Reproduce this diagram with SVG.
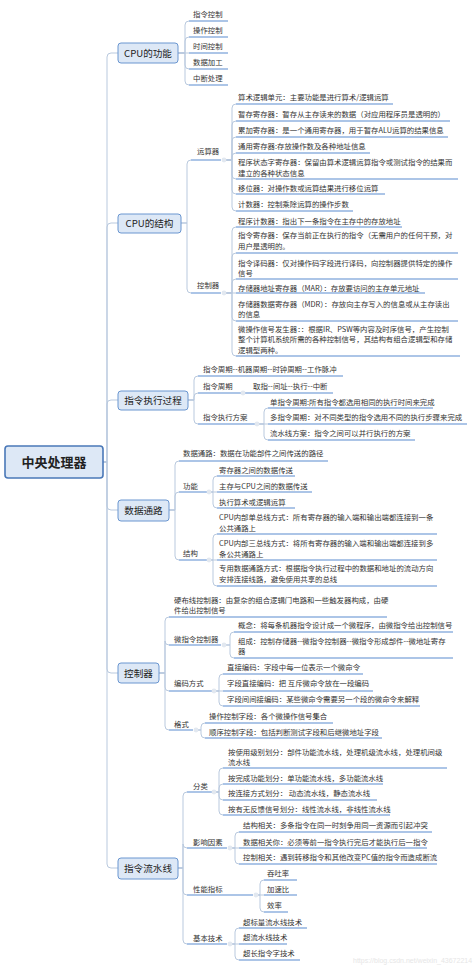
<svg xmlns="http://www.w3.org/2000/svg" width="474" height="968" viewBox="0 0 474 968">
<style>
text{font-family:"Noto Sans CJK SC","Noto Sans",sans-serif;fill:#333}
.t{font-size:7.4px}
.m{font-size:9.6px;fill:#222;text-anchor:middle}
.r{font-size:13px;font-weight:bold;fill:#222;text-anchor:middle}
.sp{fill:none;stroke:#b9c9de;stroke-width:1}
.ul{fill:none;stroke:#5b8bd0;stroke-width:1.2}
.box{fill:#dde8f6;stroke:#6a96d0;stroke-width:1}
.rbox{fill:#dde8f6;stroke:#4a78b8;stroke-width:1.6}
.dot{fill:#e2e8f0}
.wm{font-size:7px;fill:#e6e6e6;font-family:"Liberation Sans",sans-serif}
</style>
<rect width="474" height="968" fill="#fff"/>
<g id="connectors">
<path class="sp" d="M103 462H107V57Q107 53 111 53H118M103 462H107V227Q107 223 111 223H118M103 462H107V404Q107 400 111 400H118M103 462H107V506Q107 510 111 510H118M103 462H107V669Q107 673 111 673H118M103 462H107V864Q107 868 111 868H118"/>
<path class="sp" d="M178 53H185V25Q185 21 189 21M178 53H185V41Q185 37 189 37M178 53H189M178 53H185V65Q185 69 189 69M178 53H185V81Q185 85 189 85"/>
<path class="ul" d="M189 21H228M189 37H228M189 53H228M189 69H228M189 85H228"/>
<path class="sp" d="M181 223H187V164Q187 160 191 160M181 223H187V289Q187 293 191 293"/>
<path class="ul" d="M191 160H221M191 293H221"/>
<path class="sp" d="M226 160H232V108Q232 104 236 104M226 160H232V125Q232 121 236 121M226 160H232V141Q232 137 236 137M226 160H232V157Q232 153 236 153M226 160H232V175Q232 179 236 179M226 160H232V190Q232 194 236 194M226 160H232V207Q232 211 236 211"/>
<path class="ul" d="M236 104H393M236 121H450M236 137H448M236 153H370M236 179H458M236 194H385M236 211H353"/>
<path class="sp" d="M226 293H232V231Q232 227 236 227M226 293H232V257Q232 253 236 253M226 293H232V283Q232 279 236 279M226 293H236M226 293H232V317Q232 321 236 321M226 293H232V352Q232 356 236 356"/>
<path class="ul" d="M236 227H402M236 253H458M236 279H458M236 293H425M236 321H458M236 356H460"/>
<path class="sp" d="M188 400H194V380Q194 376 198 376M188 400H194V397Q194 393 198 393M188 400H194V420Q194 424 198 424"/>
<path class="ul" d="M198 376H343M198 393H333M198 424H255"/>
<path class="sp" d="M258 424H264V412Q264 408 268 408M258 424H268M258 424H264V436Q264 440 268 440"/>
<path class="ul" d="M268 408H433M268 424H467M268 440H415"/>
<path class="sp" d="M169 510H175V465Q175 461 179 461M169 510H175V496Q175 492 179 492M169 510H175V556Q175 560 179 560"/>
<path class="ul" d="M179 461H328M179 492H207M179 560H207"/>
<path class="sp" d="M210 492H213V480Q213 476 217 476M210 492H217M210 492H213V504Q213 508 217 508"/>
<path class="ul" d="M217 476H295M217 492H312M217 508H295"/>
<path class="sp" d="M210 560H213V538Q213 534 217 534M210 560H217M210 560H213V582Q213 586 217 586"/>
<path class="ul" d="M217 534H437M217 560H437M217 586H437"/>
<path class="sp" d="M159 673H165V621Q165 617 169 617M159 673H165V641Q165 645 169 645M159 673H165V687Q165 691 169 691M159 673H165V726Q165 730 169 730"/>
<path class="ul" d="M169 617H387M169 645H221M169 691H212M169 730H193"/>
<path class="sp" d="M226 645H230V636Q230 632 234 632M226 645H230V654Q230 658 234 658"/>
<path class="ul" d="M234 632H453M234 658H453"/>
<path class="sp" d="M215 691H219V678Q219 674 223 674M215 691H223M215 691H219V702Q219 706 223 706"/>
<path class="ul" d="M223 674H363M223 691H373M223 706H420"/>
<path class="sp" d="M197 730H201V727Q201 723 205 723M197 730H201V734Q201 738 205 738"/>
<path class="ul" d="M205 723H333M205 738H382"/>
<path class="sp" d="M178 868H183V796Q183 792 187 792M178 868H183V844Q183 848 187 848M178 868H183V891Q183 895 187 895M178 868H183V940Q183 944 187 944"/>
<path class="ul" d="M187 792H212M187 848H227M187 895H253M187 944H227"/>
<path class="sp" d="M215 792H219V772Q219 768 223 768M215 792H219V788Q219 784 223 784M215 792H219V796Q219 800 223 800M215 792H219V811Q219 815 223 815"/>
<path class="ul" d="M223 768H447M223 784H383M223 800H377M223 815H390"/>
<path class="sp" d="M231 848H235V836Q235 832 239 832M231 848H239M231 848H235V860Q235 864 239 864"/>
<path class="ul" d="M239 832H432M239 848H427M239 864H437"/>
<path class="sp" d="M257 895H260V884Q260 880 264 880M257 895H264M257 895H260V908Q260 912 264 912"/>
<path class="ul" d="M264 880H297M264 895H297M264 912H288"/>
<path class="sp" d="M231 944H235V932Q235 928 239 928M231 944H239M231 944H235V956Q235 960 239 960"/>
<path class="ul" d="M239 928H307M239 944H287M239 960H300"/>
<g class="dot">
<circle cx="224" cy="160" r="2.4"/><circle cx="224" cy="293" r="2.4"/><circle cx="243" cy="393" r="2.4"/><circle cx="257" cy="424" r="2.4"/>
<circle cx="209" cy="492" r="2.4"/><circle cx="209" cy="560" r="2.4"/><circle cx="224" cy="645" r="2.4"/><circle cx="214" cy="691" r="2.4"/>
<circle cx="196" cy="730" r="2.4"/><circle cx="214" cy="792" r="2.4"/><circle cx="230" cy="848" r="2.4"/><circle cx="256" cy="895" r="2.4"/><circle cx="230" cy="944" r="2.4"/>
</g>
</g>
<g id="root"><rect class="rbox" x="5" y="446" width="98" height="32" rx="3"/><text class="r" x="54" y="466.5">中央处理器</text></g>
<g id="cpu-func"><rect class="box" x="118" y="43" width="60" height="20" rx="3"/><text class="m" x="148" y="56.6">CPU的功能</text>
<text class="t" x="193" y="16.7">指令控制</text><text class="t" x="193" y="32.7">操作控制</text><text class="t" x="193" y="48.7">时间控制</text><text class="t" x="193" y="64.7">数据加工</text><text class="t" x="193" y="80.7">中断处理</text></g>
<g id="cpu-struct"><rect class="box" x="118" y="214" width="63" height="19" rx="3"/><text class="m" x="149.5" y="227">CPU的结构</text>
<text class="t" x="197" y="153.7">运算器</text>
<text class="t" x="238" y="99.7">算术逻辑单元：主要功能是进行算术/逻辑运算</text>
<text class="t" x="238" y="116.7">暂存寄存器：暂存从主存读来的数据（对应用程序员是透明的）</text>
<text class="t" x="238" y="132.7">累加寄存器：是一个通用寄存器，用于暂存ALU运算的结果信息</text>
<text class="t" x="238" y="148.7">通用寄存器:存放操作数及各种地址信息</text>
<text class="t" x="238" y="164.7">程序状态字寄存器：保留由算术逻辑运算指令或测试指令的结果而</text>
<text class="t" x="238" y="175.7">建立的各种状态信息</text>
<text class="t" x="238" y="190.7">移位器：对操作数或运算结果进行移位运算</text>
<text class="t" x="238" y="206.7">计数器：控制乘除运算的操作步数</text>
<text class="t" x="197" y="287.7">控制器</text>
<text class="t" x="238" y="223.7">程序计数器：指出下一条指令在主存中的存放地址</text>
<text class="t" x="238" y="237.7">指令寄存器：保存当前正在执行的指令（无需用户的任何干预，对</text>
<text class="t" x="238" y="248.7">用户是透明的。</text>
<text class="t" x="238" y="265.7">指令译码器：仅对操作码字段进行译码，向控制器提供特定的操作</text>
<text class="t" x="238" y="275.7">信号</text>
<text class="t" x="238" y="290.7">存储器地址寄存器（MAR）：存放要访问的主存单元地址</text>
<text class="t" x="238" y="306.7">存储器数据寄存器（MDR）：存放向主存写入的信息或从主存读出</text>
<text class="t" x="238" y="316.7">的信息</text>
<text class="t" x="238" y="331.7">微操作信号发生器：：根据IR、PSW等内容及时序信号，产生控制</text>
<text class="t" x="238" y="341.7">整个计算机系统所需的各种控制信号，其结构有组合逻辑型和存储</text>
<text class="t" x="238" y="352.7">逻辑型两种。</text></g>
<g id="exec"><rect class="box" x="118" y="391" width="70" height="19" rx="3"/><text class="m" x="153" y="404">指令执行过程</text>
<text class="t" x="203" y="371.7">指令周期--机器周期--时钟周期--工作脉冲</text>
<text class="t" x="203" y="388.7">指令周期</text><text class="t" x="253" y="388.7">取指--间址--执行--中断</text>
<text class="t" x="203" y="419.7">指令执行方案</text>
<text class="t" x="270" y="404.7">单指令周期:所有指令都选用相同的执行时间来完成</text>
<text class="t" x="270" y="419.7">多指令周期：对不同类型的指令选用不同的执行步骤来完成</text>
<text class="t" x="270" y="435.7">流水线方案：指令之间可以并行执行的方案</text></g>
<g id="datapath"><rect class="box" x="118" y="500" width="51" height="21" rx="3"/><text class="m" x="143.5" y="514">数据通路</text>
<text class="t" x="183" y="455.7">数据通路：数据在功能部件之间传送的路径</text>
<text class="t" x="183" y="488.7">功能</text>
<text class="t" x="219" y="472.7">寄存器之间的数据传送</text>
<text class="t" x="219" y="488.7">主存与CPU之间的数据传送</text>
<text class="t" x="219" y="504.7">执行算术或逻辑运算</text>
<text class="t" x="183" y="555.7">结构</text>
<text class="t" x="219" y="519.7">CPU内部单总线方式：所有寄存器的输入端和输出端都连接到一条</text>
<text class="t" x="219" y="530.7">公共通路上</text>
<text class="t" x="219" y="545.7">CPU内部三总线方式：将所有寄存器的输入端和输出端都连接到多</text>
<text class="t" x="219" y="556.7">条公共通路上</text>
<text class="t" x="219" y="570.7">专用数据通路方式：根据指令执行过程中的数据和地址的流动方向</text>
<text class="t" x="219" y="581.7">安排连接线路，避免使用共享的总线</text></g>
<g id="controller"><rect class="box" x="118" y="663" width="41" height="20" rx="3"/><text class="m" x="138.5" y="676.6">控制器</text>
<text class="t" x="174" y="602.7">硬布线控制器：由复杂的组合逻辑门电路和一些触发器构成，由硬</text>
<text class="t" x="174" y="613.2">件给出控制信号</text>
<text class="t" x="174" y="641.7">微指令控制器</text>
<text class="t" x="238" y="627.7">概念：将每条机器指令设计成一个微程序，由微指令给出控制信号</text>
<text class="t" x="238" y="643.7">组成：控制存储器--微指令控制器--微指令形成部件--微地址寄存</text>
<text class="t" x="238" y="654.2">器</text>
<text class="t" x="174" y="685.7">编码方式</text>
<text class="t" x="227" y="669.7">直接编码：字段中每一位表示一个微命令</text>
<text class="t" x="227" y="685.7">字段直接编码：把 互斥微命令放在一段编码</text>
<text class="t" x="227" y="701.7">字段间间接编码：某些微命令需要另一个段的微命令来解释</text>
<text class="t" x="174" y="726.7">格式</text>
<text class="t" x="209" y="718.7">操作控制字段：各个微操作信号集合</text>
<text class="t" x="209" y="734.7">顺序控制字段：包括判断测试字段和后继微地址字段</text></g>
<g id="pipeline"><rect class="box" x="118" y="858" width="60" height="21" rx="3"/><text class="m" x="148" y="872">指令流水线</text>
<text class="t" x="193" y="788.7">分类</text>
<text class="t" x="228" y="754.7">按使用级别划分：部件功能流水线，处理机级流水线，处理机间级</text>
<text class="t" x="228" y="764.7">流水线</text>
<text class="t" x="228" y="780.7">按完成功能划分：单功能流水线，多功能流水线</text>
<text class="t" x="228" y="795.7">按连接方式划分： 动态流水线，静态流水线</text>
<text class="t" x="228" y="811.7">按有无反馈信号划分：线性流水线，非线性流水线</text>
<text class="t" x="193" y="844.7">影响因素</text>
<text class="t" x="243" y="827.7">结构相关：多条指令在同一时刻争用同一资源而引起冲突</text>
<text class="t" x="243" y="844.7">数据相关你：必须等前一指令执行完后才能执行后一指令</text>
<text class="t" x="243" y="859.7">控制相关：遇到转移指令和其他改变PC值的指令而造成断流</text>
<text class="t" x="193" y="891.7">性能指标</text>
<text class="t" x="267" y="875.7">吞吐率</text>
<text class="t" x="267" y="891.7">加速比</text>
<text class="t" x="267" y="907.7">效率</text>
<text class="t" x="193" y="940.7">基本技术</text>
<text class="t" x="243" y="924.7">超标量流水线技术</text>
<text class="t" x="243" y="939.7">超流水线技术</text>
<text class="t" x="243" y="955.7">超长指令字技术</text></g>
<text class="wm" x="353" y="963">https://blog.csdn.net/weixin_43672214</text>
</svg>
